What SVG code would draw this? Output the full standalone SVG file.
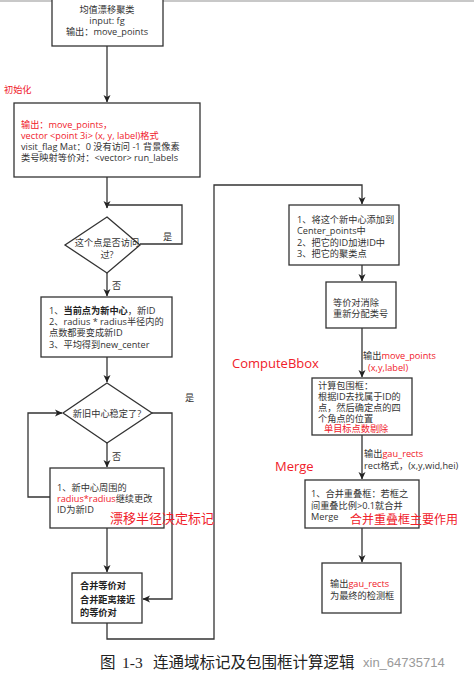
<svg xmlns="http://www.w3.org/2000/svg" width="474" height="677" viewBox="0 0 474 677">
<defs>
<marker id="ah" markerWidth="8" markerHeight="8" refX="7" refY="4" orient="auto" markerUnits="userSpaceOnUse">
<path d="M0,0.5 L7.5,4 L0,7.5 L2,4 Z" fill="#222"/>
</marker>
<style>
.b{fill:#fff;stroke:#333;stroke-width:1.3}
.c{fill:none;stroke:#333;stroke-width:1.3}
.t{font-family:"Open Sans","Noto Sans CJK SC",sans-serif;font-size:9.2px;fill:#333}
.r{fill:#f0202a}
.bd{font-weight:bold;fill:#222}
.big{font-family:"Open Sans","Noto Sans CJK SC",sans-serif;font-size:13px;fill:#f0202a}
.cap{font-family:"Liberation Serif","Noto Sans CJK SC",serif;font-size:15.5px;fill:#222}
</style>
</defs>
<rect x="0" y="0" width="474" height="677" fill="#fff"/>
<rect x="0" y="0" width="474" height="2" fill="#c8c8c8"/>
<g id="connectors">
<line class="c" x1="107" y1="46" x2="107" y2="102" marker-end="url(#ah)"/>
<line class="c" x1="107" y1="177" x2="107" y2="208" marker-end="url(#ah)"/>
<polyline class="c" points="140,244 182,244 182,205 107,205"/>
<line class="c" x1="107" y1="273" x2="107" y2="296" marker-end="url(#ah)"/>
<line class="c" x1="107" y1="357" x2="107" y2="382" marker-end="url(#ah)"/>
<line class="c" x1="107" y1="443" x2="107" y2="467" marker-end="url(#ah)"/>
<polyline class="c" points="50,497 28,497 28,413 62,413" marker-end="url(#ah)"/>
<polyline class="c" points="152,413 172,413 172,599 143,599" marker-end="url(#ah)"/>
<line class="c" x1="107" y1="528" x2="107" y2="572" marker-end="url(#ah)"/>
<polyline class="c" points="107,623 107,639 214,639 214,185 362,185 362,204" marker-end="url(#ah)"/>
<line class="c" x1="362" y1="265" x2="362" y2="281" marker-end="url(#ah)"/>
<line class="c" x1="362" y1="328" x2="362" y2="377" marker-end="url(#ah)"/>
<line class="c" x1="362" y1="435" x2="362" y2="479" marker-end="url(#ah)"/>
<line class="c" x1="362" y1="528" x2="362" y2="562" marker-end="url(#ah)"/>
<text class="t" x="163" y="240">是</text>
<text class="t" x="112" y="289">否</text>
<text class="t" x="185" y="401">是</text>
<text class="t" x="112" y="460">否</text>
<text class="t" x="363" y="359">输出<tspan class="r">move_points</tspan></text>
<text class="t r" x="368" y="371">(x,y,label)</text>
<text class="t" x="364" y="457">输出<tspan class="r">gau_rects</tspan></text>
<text class="t" x="364" y="469">rect格式，(x,y,wid,hei)</text>
</g>
<g id="n_start">
<rect class="b" x="52" y="-2" width="111" height="48"/>
<text class="t" x="107" y="13" text-anchor="middle">均值漂移聚类</text>
<text class="t" x="107" y="24" text-anchor="middle">input: fg</text>
<text class="t" x="107" y="35" text-anchor="middle">输出：move_points</text>
</g>
<text class="t r" x="4" y="93">初始化</text>
<g id="n_init">
<rect class="b" x="14" y="103" width="186" height="74"/>
<text class="t r" x="21" y="128">输出：move_points，</text>
<text class="t r" x="21" y="139">vector &lt;point 3i&gt; (x, y, label)格式</text>
<text class="t" x="21" y="150">visit_flag Mat：0 没有访问 -1 背景像素</text>
<text class="t" x="21" y="161">类号映射等价对：&lt;vector&gt; run_labels</text>
</g>
<g id="n_visited">
<polygon class="b" points="107,217 140,245 107,273 65,245"/>
<text class="t" x="107" y="246" text-anchor="middle">这个点是否访问</text>
<text class="t" x="107" y="258" text-anchor="middle">过?</text>
</g>
<g id="n_center">
<rect class="b" x="41" y="297" width="131" height="60"/>
<text class="t" x="49" y="314">1、<tspan class="bd">当前点为新中心</tspan>，新ID</text>
<text class="t" x="49" y="325">2、radius * radius半径内的</text>
<text class="t" x="49" y="336">点数都要变成新ID</text>
<text class="t" x="49" y="348">3、平均得到new_center</text>
</g>
<g id="n_stable">
<polygon class="b" points="107,383 152,413 107,443 63,413"/>
<text class="t" x="107" y="417" text-anchor="middle">新旧中心稳定了?</text>
</g>
<g id="n_update">
<rect class="b" x="50" y="468" width="114" height="60"/>
<text class="t" x="57" y="491">1、新中心周围的</text>
<text class="t" x="57" y="502"><tspan class="r">radius*radius</tspan>继续更改</text>
<text class="t" x="57" y="513">ID为新ID</text>
<text class="big" x="110" y="523">漂移半径决定标记</text>
</g>
<g id="n_merge_pairs">
<rect class="b" x="72" y="573" width="70" height="50"/>
<text class="t bd" x="80" y="589">合并等价对</text>
<text class="t bd" x="80" y="603">合并距离接近</text>
<text class="t bd" x="80" y="616">的等价对</text>
</g>
<g id="n_add_center">
<rect class="b" x="289" y="205" width="110" height="60"/>
<text class="t" x="297" y="223">1、将这个新中心添加到</text>
<text class="t" x="297" y="234">Center_points中</text>
<text class="t" x="297" y="246">2、把它的ID加进ID中</text>
<text class="t" x="297" y="257">3、把它的聚类点</text>
</g>
<g id="n_relabel">
<rect class="b" x="326" y="282" width="70" height="46"/>
<text class="t" x="333" y="306">等价对消除</text>
<text class="t" x="333" y="317">重新分配类号</text>
</g>
<text class="big" x="232" y="368">ComputeBbox</text>
<g id="n_bbox">
<rect class="b" x="312" y="378" width="100" height="57"/>
<text class="t" x="318" y="389">计算包围框：</text>
<text class="t" x="318" y="400">根据ID去找属于ID的</text>
<text class="t" x="318" y="411">点，然后确定点的四</text>
<text class="t" x="318" y="422">个角点的位置</text>
<text class="t r" x="324" y="432">单目标点数剔除</text>
</g>
<text class="big" x="275" y="471">Merge</text>
<g id="n_merge">
<rect class="b" x="305" y="480" width="114" height="48"/>
<text class="t" x="311" y="497">1、合并重叠框：若框之</text>
<text class="t" x="311" y="509">间重叠比例&gt;0.1就合并</text>
<text class="t" x="311" y="520">Merge</text>
<text class="big" x="350" y="524" style="font-size:12px">合并重叠框主要作用</text>
</g>
<g id="n_output">
<rect class="b" x="322" y="563" width="79" height="50"/>
<text class="t" x="330" y="587">输出<tspan class="r">gau_rects</tspan></text>
<text class="t" x="330" y="599">为最终的检测框</text>
</g>
<text class="cap" x="100" y="668">图</text>
<text class="cap" x="122" y="668">1-3</text>
<text class="cap" x="153" y="668">连通域标记及包围框计算逻辑</text>
<text x="363" y="667" style="font-family:'Liberation Sans',sans-serif;font-size:13px;fill:#9a9a9a">xin_64735714</text>
</svg>
